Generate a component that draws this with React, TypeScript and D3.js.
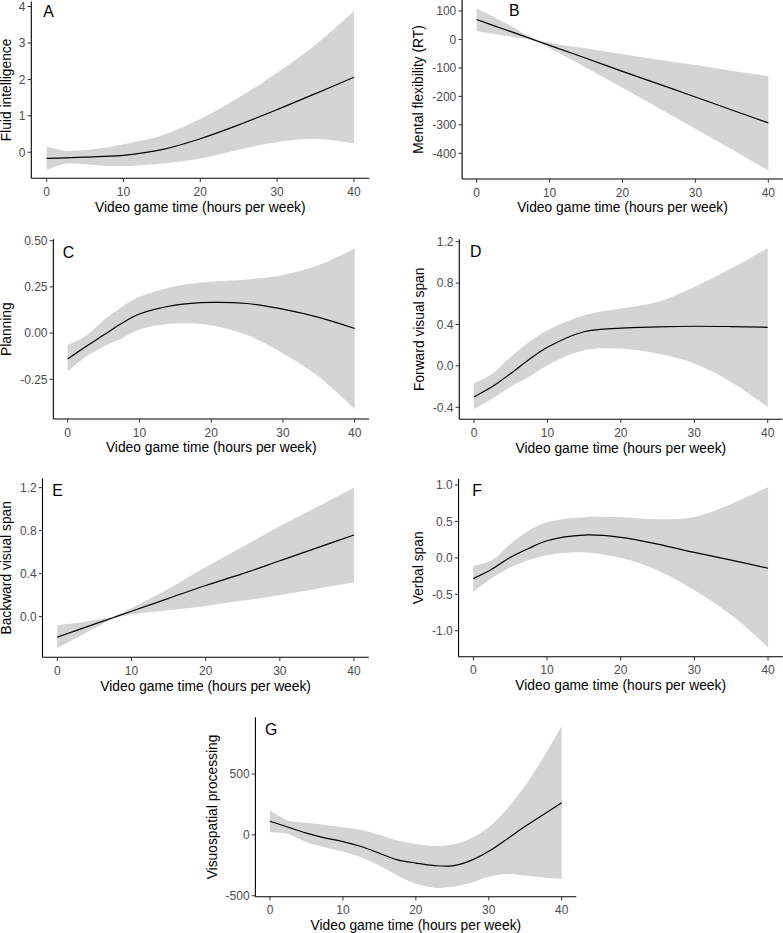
import * as d3 from "d3";

const hours = [0, 2.5, 5, 7.5, 10, 15, 20, 25, 30, 35, 40];
const hoursG = [0, 2.5, 5, 7.5, 10, 12.5, 15, 17.5, 20, 22.5, 25, 27.5, 30, 32.5, 35, 37.5, 40];
const xTicks = [0, 10, 20, 30, 40];

// A: fluid intelligence
const fluidFit = [-0.17, -0.155, -0.135, -0.115, -0.085, 0.07, 0.37, 0.75, 1.17, 1.61, 2.06];
const fluidUpper = [0.16, 0.04, 0.06, 0.12, 0.22, 0.46, 0.91, 1.5, 2.18, 2.95, 3.87];
const fluidLower = [-0.49, -0.31, -0.33, -0.37, -0.38, -0.31, -0.17, 0.07, 0.28, 0.37, 0.24];

// B: mental flexibility (RT)
const flexFit = [70, 47, 25, 2, -21, -66, -112, -157, -202, -248, -293];
const flexUpper = [109, 77, 43, 7, -12, -32, -52, -71, -90, -110, -129];
const flexLower = [29, 19, 9, -2, -30, -99, -170, -242, -314, -387, -460];

// C: planning
const planFit = [-0.14, -0.074, -0.011, 0.052, 0.103, 0.151, 0.166, 0.16, 0.13, 0.085, 0.025];
const planUpper = [-0.065, -0.016, 0.07, 0.14, 0.196, 0.254, 0.278, 0.29, 0.314, 0.368, 0.458];
const planLower = [-0.209, -0.128, -0.074, -0.029, 0.02, 0.052, 0.043, -0.011, -0.11, -0.236, -0.411];

// D: forward visual span
const fwdFit = [-0.3, -0.2, -0.074, 0.061, 0.18, 0.33, 0.365, 0.377, 0.383, 0.38, 0.373];
const fwdUpper = [-0.17, -0.074, 0.087, 0.23, 0.345, 0.49, 0.554, 0.618, 0.763, 0.94, 1.14];
const fwdLower = [-0.418, -0.316, -0.2, -0.106, 0.006, 0.151, 0.167, 0.119, 0.023, -0.155, -0.396];

// E: backward visual span
const bwdFit = [-0.19, -0.13, -0.07, -0.01, 0.05, 0.17, 0.29, 0.4, 0.52, 0.64, 0.76];
const bwdUpper = [-0.08, -0.06, -0.03, 0.0, 0.08, 0.26, 0.46, 0.65, 0.84, 1.02, 1.2];
const bwdLower = [-0.29, -0.2, -0.11, -0.02, 0.02, 0.06, 0.1, 0.15, 0.2, 0.26, 0.32];

// F: verbal span
const verbFit = [-0.285, -0.156, 0.005, 0.129, 0.235, 0.313, 0.281, 0.189, 0.074, -0.032, -0.143];
const verbUpper = [-0.11, -0.032, 0.189, 0.373, 0.488, 0.557, 0.557, 0.53, 0.56, 0.74, 0.97];
const verbLower = [-0.465, -0.28, -0.133, -0.03, 0.037, 0.074, 0.0, -0.17, -0.445, -0.786, -1.227];

// G: visuospatial processing
const visFit = [112, 63, 14, -25, -55, -96, -151, -205, -232, -252, -255, -212, -135, -35, 70, 168, 264];
const visUpper = [200, 118, 99, 82, 63, 41, 0, -47, -76, -92, -80, -30, 63, 213, 405, 638, 895];
const visLower = [22, 8, -60, -101, -137, -184, -252, -334, -402, -434, -427, -395, -345, -321, -334, -350, -362];

const FONT = "'Liberation Sans', Arial, Helvetica, sans-serif";
const xTitle = "Video game time (hours per week)";

type Panel = {
  letter: string;
  title: string;
  xs: number[];
  fit: number[];
  upper: number[];
  lower: number[];
  yTicks: number[];
  fmt: (v: number) => string;
  left: number;
  right: number;
  top: number;
  bottom: number;
  yDomain: [number, number];
  titleX: number;
  letterX: number;
  letterY: number;
};

const f0 = d3.format("d");
const f1 = d3.format(".1f");
const f2 = d3.format(".2f");
// ggplot prints a plain hyphen for negatives
const minus = (fmt: (v: number) => string) => (v: number) => fmt(v).replace("\u2212", "-");

const panels: Panel[] = [
  { letter: "A", title: "Fluid intelligence", xs: hours, fit: fluidFit, upper: fluidUpper, lower: fluidLower,
    yTicks: [0, 1, 2, 3, 4], fmt: minus(f0), left: 31.3, right: 369.3, top: 1.6, bottom: 178.3,
    yDomain: [-0.716, 4.136], titleX: 11, letterX: 43.3, letterY: 17.3 },
  { letter: "B", title: "Mental flexibility (RT)", xs: hours, fit: flexFit, upper: flexUpper, lower: flexLower,
    yTicks: [100, 0, -100, -200, -300, -400], fmt: minus(f0), left: 462.1, right: 782.9, top: 0, bottom: 179,
    yDomain: [-490.3, 138.6], titleX: 423, letterX: 509, letterY: 15.5 },
  { letter: "C", title: "Planning", xs: hours, fit: planFit, upper: planUpper, lower: planLower,
    yTicks: [0.5, 0.25, 0, -0.25], fmt: minus(f2), left: 53.35, right: 369.05, top: 239.3, bottom: 419,
    yDomain: [-0.465, 0.5076], titleX: 11, letterX: 62.7, letterY: 257.7 },
  { letter: "D", title: "Forward visual span", xs: hours, fit: fwdFit, upper: fwdUpper, lower: fwdLower,
    yTicks: [1.2, 0.8, 0.4, 0, -0.4], fmt: minus(f1), left: 459.3, right: 782.4, top: 239.3, bottom: 419.3,
    yDomain: [-0.516, 1.223], titleX: 424, letterX: 470, letterY: 256.7 },
  { letter: "E", title: "Backward visual span", xs: hours, fit: bwdFit, upper: bwdUpper, lower: bwdLower,
    yTicks: [1.2, 0.8, 0.4, 0], fmt: minus(f1), left: 42.5, right: 368.8, top: 478.3, bottom: 657.3,
    yDomain: [-0.378, 1.287], titleX: 11, letterX: 52.3, letterY: 496 },
  { letter: "F", title: "Verbal span", xs: hours, fit: verbFit, upper: verbUpper, lower: verbLower,
    yTicks: [1, 0.5, 0, -0.5, -1], fmt: minus(f1), left: 458.55, right: 782.8, top: 479, bottom: 656.7,
    yDomain: [-1.357, 1.082], titleX: 422.5, letterX: 472.3, letterY: 496 },
  { letter: "G", title: "Visuospatial processing", xs: hoursG, fit: visFit, upper: visUpper, lower: visLower,
    yTicks: [500, 0, -500], fmt: minus(f0), left: 255.4, right: 576.3, top: 717.3, bottom: 896.7,
    yDomain: [-508, 965.9], titleX: 216.5, letterX: 265, letterY: 735 },
];

function PanelPlot({ p }: { p: Panel }) {
  const x = d3.scaleLinear().domain([-2, 42]).range([p.left, p.right]);
  const y = d3.scaleLinear().domain(p.yDomain).range([p.bottom, p.top]);
  const idx = p.xs.map((_, i) => i);
  const curve = d3.curveCatmullRom.alpha(0.5);

  const area = d3
    .area<number>()
    .x((i) => x(p.xs[i]))
    .y0((i) => y(p.lower[i]))
    .y1((i) => y(p.upper[i]))
    .curve(curve);
  const line = d3
    .line<number>()
    .x((i) => x(p.xs[i]))
    .y((i) => y(p.fit[i]))
    .curve(curve);

  const midY = (p.top + p.bottom) / 2;
  const xMid = (p.left + p.right) / 2;

  return (
    <g>
      <path d={area(idx) || ""} fill="#d4d4d4" stroke="none" />
      <path d={line(idx) || ""} fill="none" stroke="#000" strokeWidth={1.2} />

      {/* axes */}
      <line x1={p.left} x2={p.right} y1={p.bottom} y2={p.bottom} stroke="#000" strokeWidth={1.1} />
      <line x1={p.left} x2={p.left} y1={p.top} y2={p.bottom} stroke="#000" strokeWidth={1.1} />

      {xTicks.map((t) => (
        <g key={"x" + t}>
          <line x1={x(t)} x2={x(t)} y1={p.bottom} y2={p.bottom + 3.7} stroke="#333" strokeWidth={1} />
          <text x={x(t)} y={p.bottom + 17.6} textAnchor="middle" fontSize={12} fill="#4d4d4d" fontFamily={FONT}>
            {t}
          </text>
        </g>
      ))}

      {p.yTicks.map((t) => (
        <g key={"y" + t}>
          <line x1={p.left - 3.7} x2={p.left} y1={y(t)} y2={y(t)} stroke="#333" strokeWidth={1} />
          <text x={p.left - 5.8} y={y(t) + 4.3} textAnchor="end" fontSize={12} fill="#4d4d4d" fontFamily={FONT}>
            {p.fmt(t)}
          </text>
        </g>
      ))}

      <text x={xMid} y={p.bottom + 33.3} textAnchor="middle" fontSize={13.8} fill="#000" fontFamily={FONT}>
        {xTitle}
      </text>
      <text
        transform={`translate(${p.titleX},${midY}) rotate(-90)`}
        textAnchor="middle"
        fontSize={13.8}
        fill="#000"
        fontFamily={FONT}
      >
        {p.title}
      </text>
      <text x={p.letterX} y={p.letterY} fontSize={15.8} fill="#000" fontFamily={FONT}>
        {p.letter}
      </text>
    </g>
  );
}

export default function App() {
  return (
    <svg
      width={783}
      height={933}
      style={{ position: "absolute", left: 0, top: 0, background: "#fff" }}
    >
      <rect width={783} height={933} fill="#fff" />
      {panels.map((p) => (
        <PanelPlot key={p.letter} p={p} />
      ))}
    </svg>
  );
}
